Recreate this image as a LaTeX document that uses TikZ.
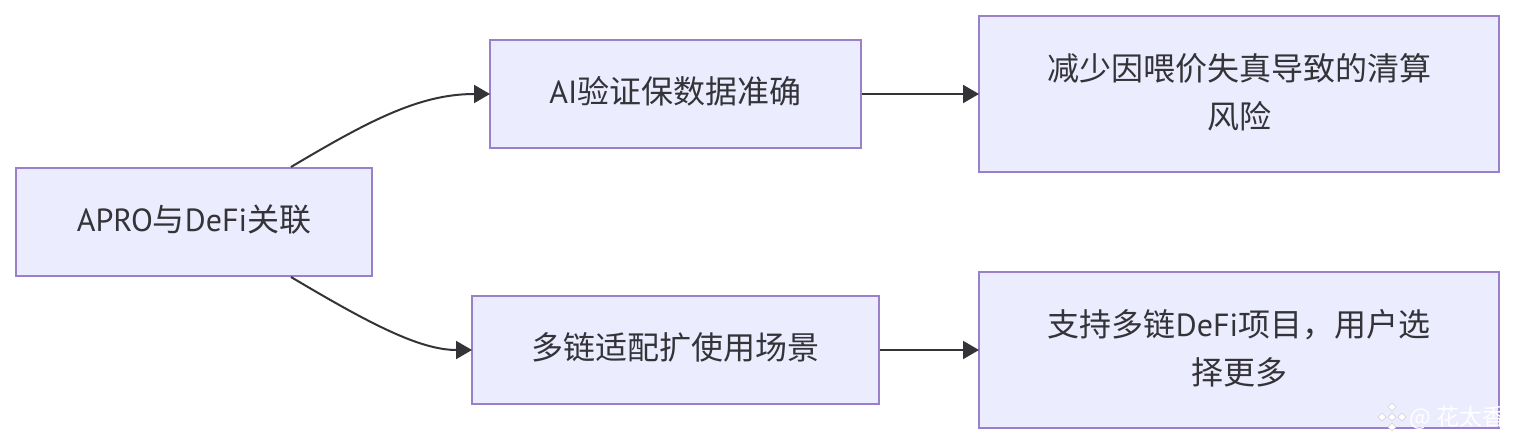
\documentclass[tikz,border=0pt]{standalone}
\usepackage{fontspec}
\usepackage{xcolor}
\setmainfont{Noto Sans CJK SC}
\newfontfamily\latinfont{PT Sans}
\newcommand{\lat}[1]{{\latinfont\fontsize{32}{48}\selectfont #1}}
\usetikzlibrary{positioning,calc,arrows.meta}
\definecolor{boxfill}{HTML}{ECECFF}
\definecolor{boxline}{HTML}{9A80C8}
\definecolor{inkgray}{HTML}{333338}
\tikzset{
    flowbox/.style={draw=boxline,fill=boxfill,line width=2pt,text=inkgray,align=center,inner sep=0pt,minimum height=108pt,text depth=8pt,font=\fontsize{32}{48}\selectfont},
    bigbox/.style={flowbox,minimum width=520pt,minimum height=156pt,text depth=6pt},
    flowarrow/.style={draw=inkgray,line width=2pt,shorten >=-1pt,-{Triangle[length=16pt,width=18pt]}},
    marktext/.style={text=white,font=\fontsize{23}{23}\selectfont,inner sep=0pt},
    markicon/.style={fill=white,draw=gray!35,line width=0.5pt}
}
\begin{document}
\begin{tikzpicture}[x=1pt,y=-1pt]
    \useasboundingbox (0,0) rectangle (1515,444);
    \node[flowbox,minimum width=356pt] (root) at (194,222) {\lat{APRO}与\lat{DeFi}关联};
    \node[flowbox,minimum width=371pt] (verify) at (675.5,94) {\lat{AI}验证保数据准确};
    \node[flowbox,minimum width=407pt] (chain) at (675.5,350) {多链适配扩使用场景};
    \node[bigbox] (risk) at (1239,94) {减少因喂价失真导致的清算\\风险};
    \node[bigbox] (choice) at (1239,350) {支持多链\lat{DeFi}项目，用户选\\择更多};
    \coordinate (rootup) at ($(root.north east)+(-82,0)$);
    \coordinate (rootdown) at ($(root.south east)+(-82,0)$);
    \draw[flowarrow] (rootup) .. controls (370,120) and (420,94) .. (verify.west);
    \draw[flowarrow] (rootdown) .. controls (370,324) and (420,350) .. (chain.west);
    \draw[flowarrow] (verify) -- (risk);
    \draw[flowarrow] (chain) -- (choice);
    % watermark
    \node[marktext,anchor=west] (mark) at (1409,418) {@ 花太香};
    \foreach \dx/\dy in {0/0,0/-10,10/0,0/10,-10/0}
        \draw[markicon] (1392+\dx,417+\dy-4) -- ++(4,4) -- ++(-4,4) -- ++(-4,-4) -- cycle;
\end{tikzpicture}
\end{document}
